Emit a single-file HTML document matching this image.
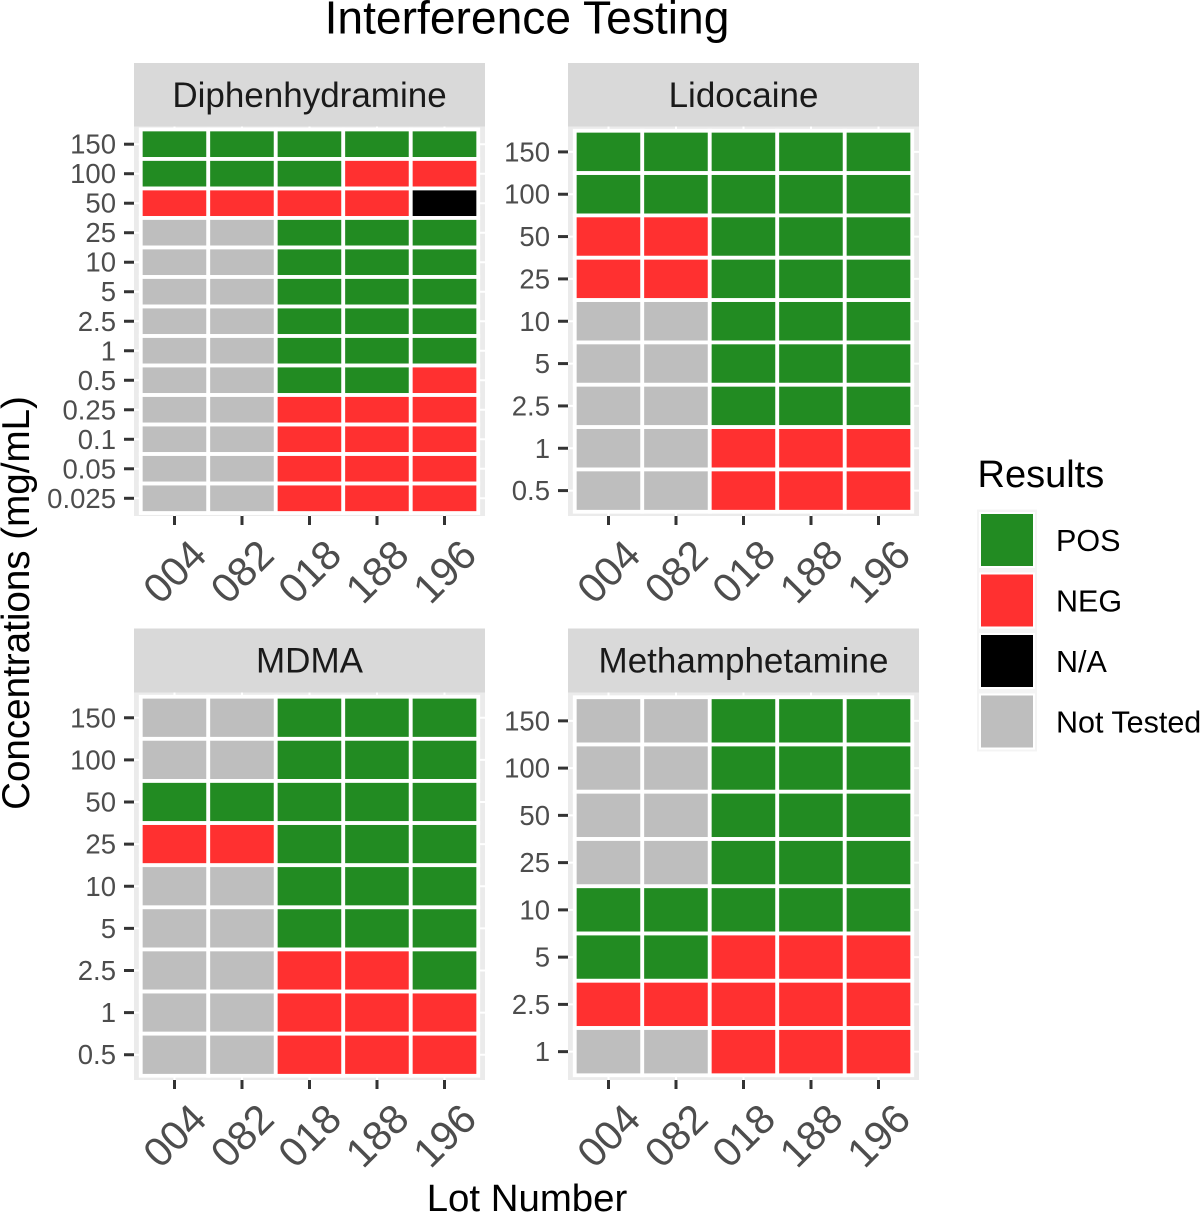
<!DOCTYPE html>
<html lang="en">
<head>
<meta charset="utf-8">
<title>Interference Testing</title>
<style>
html,body{margin:0;padding:0;background:#fff;width:1200px;height:1213px;overflow:hidden}
svg{display:block}
text{font-family:"Liberation Sans",Arial,sans-serif}
</style>
</head>
<body>
<svg id="chart" xmlns="http://www.w3.org/2000/svg" width="1200" height="1213" viewBox="0 0 1200 1213">
  <rect x="0" y="0" width="1200" height="1213" fill="#ffffff"/>
  <text x="527" y="33.5" font-size="46.2" text-anchor="middle" fill="#000">Interference Testing</text>
  <text transform="translate(29,603) rotate(-90)" font-size="38.6" text-anchor="middle" fill="#000">Concentrations (mg/mL)</text>
  <text x="527" y="1211" font-size="38.4" text-anchor="middle" fill="#000">Lot Number</text>
  <g id="panels"></g>
  <g id="legend">
    <text x="977.5" y="487" font-size="38" fill="#000">Results</text>
  </g>
</svg>
<script>
const lots = ['004', '082', '018', '188', '196'];

const diphenhydramineConc = ['150', '100', '50', '25', '10', '5', '2.5', '1', '0.5', '0.25', '0.1', '0.05', '0.025'];
const diphenhydramineResults = [
  ['POS', 'POS', 'POS', 'POS', 'POS'],
  ['POS', 'POS', 'POS', 'NEG', 'NEG'],
  ['NEG', 'NEG', 'NEG', 'NEG', 'N/A'],
  ['Not Tested', 'Not Tested', 'POS', 'POS', 'POS'],
  ['Not Tested', 'Not Tested', 'POS', 'POS', 'POS'],
  ['Not Tested', 'Not Tested', 'POS', 'POS', 'POS'],
  ['Not Tested', 'Not Tested', 'POS', 'POS', 'POS'],
  ['Not Tested', 'Not Tested', 'POS', 'POS', 'POS'],
  ['Not Tested', 'Not Tested', 'POS', 'POS', 'NEG'],
  ['Not Tested', 'Not Tested', 'NEG', 'NEG', 'NEG'],
  ['Not Tested', 'Not Tested', 'NEG', 'NEG', 'NEG'],
  ['Not Tested', 'Not Tested', 'NEG', 'NEG', 'NEG'],
  ['Not Tested', 'Not Tested', 'NEG', 'NEG', 'NEG']
];

const lidocaineConc = ['150', '100', '50', '25', '10', '5', '2.5', '1', '0.5'];
const lidocaineResults = [
  ['POS', 'POS', 'POS', 'POS', 'POS'],
  ['POS', 'POS', 'POS', 'POS', 'POS'],
  ['NEG', 'NEG', 'POS', 'POS', 'POS'],
  ['NEG', 'NEG', 'POS', 'POS', 'POS'],
  ['Not Tested', 'Not Tested', 'POS', 'POS', 'POS'],
  ['Not Tested', 'Not Tested', 'POS', 'POS', 'POS'],
  ['Not Tested', 'Not Tested', 'POS', 'POS', 'POS'],
  ['Not Tested', 'Not Tested', 'NEG', 'NEG', 'NEG'],
  ['Not Tested', 'Not Tested', 'NEG', 'NEG', 'NEG']
];

const mdmaConc = ['150', '100', '50', '25', '10', '5', '2.5', '1', '0.5'];
const mdmaResults = [
  ['Not Tested', 'Not Tested', 'POS', 'POS', 'POS'],
  ['Not Tested', 'Not Tested', 'POS', 'POS', 'POS'],
  ['POS', 'POS', 'POS', 'POS', 'POS'],
  ['NEG', 'NEG', 'POS', 'POS', 'POS'],
  ['Not Tested', 'Not Tested', 'POS', 'POS', 'POS'],
  ['Not Tested', 'Not Tested', 'POS', 'POS', 'POS'],
  ['Not Tested', 'Not Tested', 'NEG', 'NEG', 'POS'],
  ['Not Tested', 'Not Tested', 'NEG', 'NEG', 'NEG'],
  ['Not Tested', 'Not Tested', 'NEG', 'NEG', 'NEG']
];

const methamphetamineConc = ['150', '100', '50', '25', '10', '5', '2.5', '1'];
const methamphetamineResults = [
  ['Not Tested', 'Not Tested', 'POS', 'POS', 'POS'],
  ['Not Tested', 'Not Tested', 'POS', 'POS', 'POS'],
  ['Not Tested', 'Not Tested', 'POS', 'POS', 'POS'],
  ['Not Tested', 'Not Tested', 'POS', 'POS', 'POS'],
  ['POS', 'POS', 'POS', 'POS', 'POS'],
  ['POS', 'POS', 'NEG', 'NEG', 'NEG'],
  ['NEG', 'NEG', 'NEG', 'NEG', 'NEG'],
  ['Not Tested', 'Not Tested', 'NEG', 'NEG', 'NEG']
];

const legendLabels = ['POS', 'NEG', 'N/A', 'Not Tested'];
const legendColors = ['#228b22', '#ff3030', '#000000', '#bebebe'];

const SVG_NS = 'http://www.w3.org/2000/svg';
const PANEL_W = 351;
const EXPAND = 0.6;

function colorFor(result) {
  return legendColors[legendLabels.indexOf(result)];
}

function make(parent, tag, attrs, content) {
  const el = document.createElementNS(SVG_NS, tag);
  for (const k in attrs) el.setAttribute(k, attrs[k]);
  if (content !== undefined) el.textContent = content;
  parent.appendChild(el);
  return el;
}

function slug(s) {
  return String(s).toLowerCase().replace(/[^a-z0-9]+/g, '-').replace(/^-|-$/g, '');
}

function bandScale(start, length, count) {
  const unit = length / (count - 1 + 2 * EXPAND);
  const at = function (i) { return start + (EXPAND + i) * unit; };
  at.unit = unit;
  return at;
}

function drawPanel(root, name, concs, results, left, stripTop, panelTop, panelBottom) {
  const g = make(root, 'g', {});
  
  

  const strip = make(g, 'rect', { x: left, y: stripTop, width: PANEL_W, height: panelTop - stripTop, fill: '#d9d9d9' });
  
  

  const stripLabel = make(g, 'text', { x: left + PANEL_W / 2, y: (stripTop + panelTop) / 2 + 12, 'font-size': 35, 'text-anchor': 'middle', fill: '#1a1a1a' }, name);
  
  

  const bg = make(g, 'rect', { x: left, y: panelTop, width: PANEL_W, height: panelBottom - panelTop, fill: '#ebebeb' });
  
  

  const xAt = bandScale(left, PANEL_W, lots.length);
  const yAt = bandScale(panelTop, panelBottom - panelTop, concs.length);

  lots.forEach(function (lot, i) {
    const grid = make(g, 'line', { x1: xAt(i), x2: xAt(i), y1: panelTop, y2: panelBottom, stroke: '#fff', 'stroke-width': 2 });
    
    
  });
  concs.forEach(function (c, r) {
    const grid = make(g, 'line', { x1: left, x2: left + PANEL_W, y1: yAt(r), y2: yAt(r), stroke: '#fff', 'stroke-width': 2 });
    
    
  });

  results.forEach(function (row, r) {
    row.forEach(function (res, i) {
      const cell = make(g, 'rect', {
        x: xAt(i) - xAt.unit / 2,
        y: yAt(r) - yAt.unit / 2,
        width: xAt.unit,
        height: yAt.unit,
        fill: colorFor(res),
        stroke: '#ffffff',
        'stroke-width': 3.8
      });
      
      
    });
  });

  concs.forEach(function (c, r) {
    const tick = make(g, 'line', { x1: left - 10, x2: left, y1: yAt(r), y2: yAt(r), stroke: '#333', 'stroke-width': 3 });
    
    
    const label = make(g, 'text', { x: left - 18, y: yAt(r) + 9.5, 'font-size': 27.5, 'text-anchor': 'end', fill: '#4d4d4d' }, c);
    
    
  });

  lots.forEach(function (lot, i) {
    const tick = make(g, 'line', { x1: xAt(i), x2: xAt(i), y1: panelBottom, y2: panelBottom + 9, stroke: '#333', 'stroke-width': 3 });
    
    
    const label = make(g, 'text', {
      transform: 'translate(' + (xAt(i) - 0.5) + ',' + (panelBottom + 55) + ') rotate(-45)',
      y: 15,
      'font-size': 41,
      'text-anchor': 'middle',
      fill: '#4d4d4d'
    }, lot);
    
    
  });
}

const panelsRoot = document.getElementById('panels');
drawPanel(panelsRoot, 'Diphenhydramine', diphenhydramineConc, diphenhydramineResults, 134, 63, 126.5, 516);
drawPanel(panelsRoot, 'Lidocaine', lidocaineConc, lidocaineResults, 568, 63, 126.5, 516);
drawPanel(panelsRoot, 'MDMA', mdmaConc, mdmaResults, 134, 628.5, 692.5, 1080);
drawPanel(panelsRoot, 'Methamphetamine', methamphetamineConc, methamphetamineResults, 568, 628.5, 692.5, 1080);

const legendRoot = document.getElementById('legend');
legendLabels.forEach(function (lab, i) {
  const top = 509.5 + i * 60.5;
  const key = make(legendRoot, 'rect', { x: 977, y: top, width: 60, height: 60.5, fill: '#f4f4f4' });
  
  
  const swatch = make(legendRoot, 'rect', { x: 980, y: top + 3.5, width: 54, height: 54, fill: legendColors[i], stroke: '#fff', 'stroke-width': 2 });
  
  
  const text = make(legendRoot, 'text', { x: 1056, y: top + 41.5, 'font-size': 30.5, fill: '#000' }, lab);
  
  
});
</script>
</body>
</html>
